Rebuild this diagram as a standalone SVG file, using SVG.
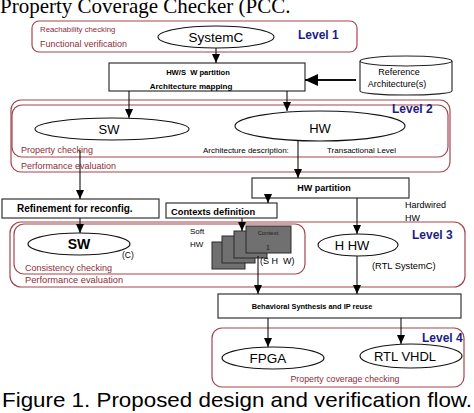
<svg xmlns="http://www.w3.org/2000/svg" width="474" height="413" viewBox="0 0 474 413">
<defs>
<marker id="ah" markerUnits="userSpaceOnUse" markerWidth="10" markerHeight="8" refX="9" refY="4" orient="auto">
<path d="M0,0 L9,4 L0,8 Z" fill="#000"/>
</marker>
<marker id="ahb" markerUnits="userSpaceOnUse" markerWidth="14" markerHeight="12" refX="13" refY="6" orient="auto">
<path d="M0,0 L13,6 L0,12 Z" fill="#000"/>
</marker>
<style>
text{font-family:"Liberation Sans",Arial,sans-serif;}
.lvl{fill:none;stroke:#a3454f;stroke-width:1.2;}
.note{fill:#8e2c3a;}
.lab{fill:#1c1c86;font-weight:bold;font-size:12px;}
.box{fill:#fff;stroke:#333;stroke-width:1.2;}
.ell{fill:#fff;stroke:#111;stroke-width:1.1;}
.b{font-weight:bold;}
.conn line{stroke:#111;stroke-width:1.1;marker-end:url(#ah);}
.ctx{fill:#707070;stroke:#2a2a2a;stroke-width:1;}
</style>
</defs>
<rect width="474" height="413" fill="#fff"/>
<text x="0" y="13" font-family="'Liberation Serif',serif" style="font-family:'Liberation Serif',serif" font-size="21" fill="#000">Property Coverage Checker (PCC.</text>

<g id="level1">
<rect class="lvl" x="32" y="21" width="325" height="31" rx="7"/>
<text class="note" x="40" y="32" font-size="7.8">Reachability checking</text>
<text class="note" x="40" y="47" font-size="9">Functional verification</text>
<text class="lab" x="298" y="39">Level 1</text>
</g>
<g id="systemc">
<ellipse class="ell" cx="216" cy="37" rx="58" ry="11"/>
<text x="216" y="42" font-size="13.5" text-anchor="middle">SystemC</text>
</g>
<g id="hwsw-partition">
<rect class="box" x="109" y="63" width="196" height="28"/>
<text class="b" x="198" y="75" font-size="7.6" text-anchor="middle" style="white-space:pre">HW/S  W partition</text>
<text class="b" x="191" y="89" font-size="8" text-anchor="middle">Architecture mapping</text>
</g>
<g id="reference-arch">
<path d="M360,61 L360,91 A46,4 0 0 0 452,91 L452,61" fill="#fff" stroke="#222" stroke-width="1.1"/>
<ellipse cx="406" cy="61" rx="46" ry="5" fill="#fff" stroke="#222" stroke-width="1.1"/>
<text x="399" y="75" font-size="9" text-anchor="middle">Reference</text>
<text x="397" y="87" font-size="9" text-anchor="middle">Architecture(s)</text>
</g>

<g id="level2">
<rect class="lvl" x="11" y="100" width="439" height="72" rx="10"/>
<rect class="lvl" x="12" y="105" width="436" height="52" rx="10"/>
<text class="lab" x="392" y="113">Level 2</text>
<text class="note" x="21" y="153" font-size="9">Property checking</text>
<text class="note" x="21" y="169" font-size="9">Performance evaluation</text>
<text x="203" y="153" font-size="8">Architecture description:</text>
<text x="327" y="153" font-size="8">Transactional Level</text>
</g>
<g id="sw2">
<ellipse class="ell" cx="112" cy="129" rx="77" ry="11"/>
<text x="109" y="134" font-size="13" text-anchor="middle">SW</text>
</g>
<g id="hw2">
<ellipse class="ell" cx="320" cy="126" rx="85" ry="15"/>
<text x="320" y="133" font-size="13" text-anchor="middle">HW</text>
</g>

<g id="hw-partition">
<rect class="box" x="252" y="178" width="157" height="20"/>
<text class="b" x="324" y="191" font-size="9" text-anchor="middle">HW partition</text>
</g>
<g id="refinement">
<rect class="box" x="2" y="199" width="157" height="19"/>
<text class="b" x="17" y="212" font-size="10">Refinement for reconfig.</text>
</g>
<g id="contexts-def">
<rect class="box" x="166" y="203" width="111" height="15"/>
<text class="b" x="171" y="215" font-size="9.3">Contexts definition</text>
</g>
<text x="405" y="208" font-size="9">Hardwired</text>
<text x="405" y="221" font-size="9">HW</text>

<g id="level3">
<rect class="lvl" x="10" y="222" width="455" height="65" rx="11"/>
<rect class="lvl" x="14" y="224" width="291" height="50" rx="10"/>
<text class="lab" x="412" y="239">Level 3</text>
<text class="note" x="25" y="271" font-size="9">Consistency checking</text>
<text class="note" x="25" y="283" font-size="9.3">Performance evaluation</text>
<text x="190" y="234" font-size="8">Soft</text>
<text x="190" y="247" font-size="8">HW</text>
</g>
<g id="sw3">
<ellipse class="ell" cx="79" cy="244" rx="51" ry="11"/>
<text class="b" x="79" y="249" font-size="14" text-anchor="middle">SW</text>
<text x="122" y="258" font-size="8.5">(C)</text>
</g>
<g id="contexts">
<rect class="ctx" x="212" y="242" width="33" height="27"/>
<rect class="ctx" x="222" y="236" width="33" height="27"/>
<rect class="ctx" x="234" y="231" width="33" height="27"/>
<rect class="ctx" x="246" y="226" width="45" height="27"/>
<text x="268" y="235" font-size="6" text-anchor="middle" fill="#1a1a1a">Context</text>
<text x="268" y="250" font-size="7" text-anchor="middle" fill="#1a1a1a">1</text>
<text x="260" y="264" font-size="9" style="white-space:pre">(S H  W)</text>
</g>
<g id="hhw">
<ellipse class="ell" cx="358" cy="245" rx="40" ry="11"/>
<text x="352" y="250" font-size="13" text-anchor="middle">H HW</text>
<text x="372" y="269" font-size="9.3">(RTL SystemC)</text>
</g>

<g id="behavioral">
<rect class="box" x="218" y="294" width="243" height="24"/>
<text class="b" x="312" y="309" font-size="7.4" text-anchor="middle">Behavioral Synthesis and IP reuse</text>
</g>
<g id="level4">
<rect class="lvl" x="212" y="328" width="252" height="59" rx="10"/>
<text class="lab" x="422" y="342">Level 4</text>
<text class="note" x="345" y="382" font-size="8.8" text-anchor="middle">Property coverage checking</text>
</g>
<g id="fpga">
<ellipse class="ell" cx="273" cy="358" rx="51" ry="11"/>
<text x="268" y="363" font-size="13.5" text-anchor="middle">FPGA</text>
</g>
<g id="rtlvhdl">
<ellipse class="ell" cx="411" cy="356" rx="51" ry="12"/>
<text x="405" y="361" font-size="13" text-anchor="middle">RTL VHDL</text>
</g>

<g id="connectors" class="conn">
<line x1="216" y1="48" x2="216" y2="63"/>
<line x1="356" y1="80" x2="305" y2="80" style="stroke-width:2.2;marker-end:url(#ahb)"/>
<line x1="129" y1="91" x2="129" y2="118"/>
<line x1="287" y1="91" x2="287" y2="111"/>
<line x1="80" y1="150" x2="80" y2="199"/>
<line x1="298" y1="141" x2="298" y2="178"/>
<line x1="268" y1="198" x2="268" y2="203"/>
<line x1="357" y1="198" x2="357" y2="234"/>
<line x1="80" y1="218" x2="80" y2="233"/>
<line x1="242" y1="218" x2="242" y2="231"/>
<line x1="258" y1="256" x2="258" y2="294"/>
<line x1="357" y1="256" x2="357" y2="294"/>
<line x1="268" y1="318" x2="268" y2="347"/>
<line x1="401" y1="318" x2="401" y2="344"/>
</g>

<text x="2" y="407" font-size="21" textLength="470" lengthAdjust="spacingAndGlyphs" fill="#000">Figure 1. Proposed design and verification flow.</text>
</svg>
